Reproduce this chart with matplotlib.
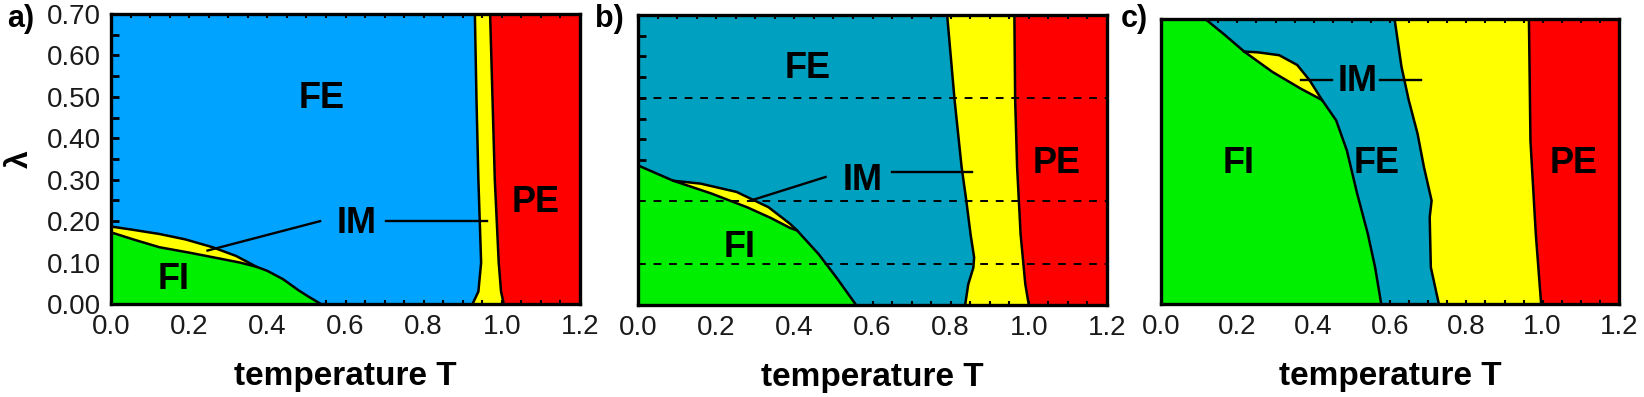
import matplotlib
matplotlib.use("Agg")
import matplotlib.pyplot as plt
from matplotlib.ticker import MultipleLocator, FormatStrFormatter

plt.rcParams['font.family'] = ['Liberation Sans', 'DejaVu Sans']

# ---------------- colours ----------------
C_FE_A = '#00A3FF'
C_FE_BC = '#00A0C0'
C_FI = '#00EE00'
C_IM = '#FFFF00'
C_PE = '#FF0000'

T_MAX = 1.2
LAM_MAX = 0.70

# ---------------- panel a ----------------
a_fi_T = [0.0, 0.06, 0.124, 0.20, 0.26, 0.33, 0.372, 0.40, 0.44, 0.48, 0.505, 0.537]
a_fi_lam = [0.173, 0.155, 0.137, 0.124, 0.113, 0.100, 0.090, 0.080, 0.060, 0.033, 0.018, 0.0]
a_sl_T = [0.0, 0.05, 0.124, 0.19, 0.26, 0.32, 0.372]
a_sl_lam = [0.187, 0.180, 0.169, 0.156, 0.137, 0.116, 0.090]
a_feim_lam = [0.0, 0.03, 0.10, 0.30, 0.50, 0.70]
a_feim_T = [0.925, 0.940, 0.947, 0.940, 0.935, 0.931]
a_impe_lam = [0.0, 0.03, 0.10, 0.30, 0.50, 0.70]
a_impe_T = [1.005, 0.998, 0.992, 0.982, 0.976, 0.970]

# ---------------- panel b ----------------
b_fi_T = [0.0, 0.09, 0.188, 0.279, 0.340, 0.389, 0.407, 0.462, 0.508, 0.558]
b_fi_lam = [0.337, 0.300, 0.269, 0.236, 0.210, 0.186, 0.180, 0.123, 0.066, 0.0]
b_sl_T = [0.09, 0.16, 0.252, 0.334, 0.389, 0.407]
b_sl_lam = [0.300, 0.293, 0.273, 0.236, 0.196, 0.180]
b_feim_lam = [0.0, 0.05, 0.09, 0.115, 0.17, 0.252, 0.333, 0.495, 0.70]
b_feim_T = [0.837, 0.845, 0.858, 0.860, 0.851, 0.840, 0.828, 0.810, 0.791]
b_impe_lam = [0.0, 0.05, 0.17, 0.333, 0.495, 0.70]
b_impe_T = [1.000, 0.991, 0.979, 0.970, 0.965, 0.963]
b_dash_lam = [0.50, 0.25, 0.10]

# ---------------- panel c ----------------
c_fi_T = [0.116, 0.167, 0.218, 0.292, 0.366, 0.422, 0.459, 0.487, 0.514, 0.542, 0.561, 0.577]
c_fi_lam = [0.70, 0.661, 0.620, 0.570, 0.529, 0.501, 0.451, 0.377, 0.271, 0.172, 0.090, 0.0]
c_sl_T = [0.218, 0.255, 0.310, 0.357, 0.389, 0.422]
c_sl_lam = [0.620, 0.618, 0.611, 0.587, 0.550, 0.501]
c_feim_lam = [0.0, 0.09, 0.213, 0.254, 0.336, 0.419, 0.501, 0.583, 0.70]
c_feim_T = [0.728, 0.707, 0.704, 0.709, 0.689, 0.672, 0.649, 0.630, 0.612]
c_impe_lam = [0.0, 0.172, 0.401, 0.70]
c_impe_T = [0.996, 0.982, 0.968, 0.964]

# ---------------- labels ----------------
a_labels = [('FE', 0.539, 0.495), ('IM', 0.629, 0.194), ('PE', 1.086, 0.245), ('FI', 0.161, 0.058)]
a_lines = [((0.535, 0.247), (0.200, 0.129)), ((0.703, 0.961), (0.200, 0.200))]
b_labels = [('FE', 0.435, 0.572), ('IM', 0.576, 0.301), ('PE', 1.070, 0.342), ('FI', 0.261, 0.139)]
b_lines = [((0.480, 0.288), (0.309, 0.252)), ((0.650, 0.855), (0.320, 0.320))]
c_labels = [('FI', 0.204, 0.345), ('FE', 0.565, 0.345), ('PE', 1.080, 0.345), ('IM', 0.514, 0.546)]
c_lines = [((0.366, 0.449), (0.550, 0.550)), ((0.575, 0.681), (0.550, 0.550))]

W, H = 1644, 397
fig = plt.figure(figsize=(W / 100, H / 100), dpi=100)


def px_axes(l, r, t, b):
    return fig.add_axes([l / W, (H - b) / H, (r - l) / W, (b - t) / H])


def draw_panel(ax, fe_col, fi_T, fi_lam, sl_T, sl_lam, feim_T, feim_lam,
               impe_T, impe_lam, labels, lines, show_ylabels):
    ax.set_xlim(0, T_MAX)
    ax.set_ylim(0, LAM_MAX)
    ax.set_facecolor(fe_col)
    lw = 1.8
    # PE
    ax.fill(list(impe_T) + [T_MAX + 0.1, T_MAX + 0.1],
            list(impe_lam) + [LAM_MAX, 0.0], color=C_PE, lw=0, zorder=1)
    # IM strip
    ax.fill(list(feim_T) + list(impe_T)[::-1], list(feim_lam) + list(impe_lam)[::-1],
            color=C_IM, lw=0, zorder=1)
    # FI region
    px = [0.0]
    py = [0.0]
    if fi_lam[0] >= LAM_MAX - 1e-9:
        px += [0.0]
        py += [LAM_MAX]
    px += list(fi_T)
    py += list(fi_lam)
    ax.fill(px, py, color=C_FI, lw=0, zorder=2)
    # IM sliver
    t0, t1 = min(sl_T), max(sl_T)
    low = [(t, l) for t, l in zip(fi_T, fi_lam) if t0 - 1e-9 <= t <= t1 + 1e-9]
    sx = list(sl_T) + [p[0] for p in low][::-1]
    sy = list(sl_lam) + [p[1] for p in low][::-1]
    ax.fill(sx, sy, color=C_IM, lw=0, zorder=3)
    # boundary lines
    for xs, ys in ((fi_T, fi_lam), (sl_T, sl_lam), (feim_T, feim_lam), (impe_T, impe_lam)):
        ax.plot(xs, ys, color='black', lw=lw, zorder=4, solid_joinstyle='round')
    # text labels
    for s, x, y in labels:
        ax.text(x, y, s, fontsize=26, fontweight='bold', ha='center', va='center', zorder=6)
    for xs, ys in lines:
        ax.plot(xs, ys, color='black', lw=1.7, zorder=6)
    # axes styling
    ax.xaxis.set_major_locator(MultipleLocator(0.2))
    ax.xaxis.set_minor_locator(MultipleLocator(0.05))
    ax.yaxis.set_major_locator(MultipleLocator(0.1))
    ax.yaxis.set_minor_locator(MultipleLocator(0.05))
    ax.xaxis.set_major_formatter(FormatStrFormatter('%.1f'))
    ax.yaxis.set_major_formatter(FormatStrFormatter('%.2f'))
    ax.tick_params(axis='x', which='both', direction='in', top=True, bottom=True,
                   length=3, width=1.5, labelsize=20, pad=7, labelcolor='#1a1a1a')
    ax.tick_params(axis='y', which='both', direction='in', left=True, right=False,
                   length=6, width=2, labelsize=20, pad=7, labelleft=show_ylabels,
                   labelcolor='#1a1a1a')
    for sp in ax.spines.values():
        sp.set_linewidth(2.4)
        sp.set_zorder(10)
    ax.set_xlabel('temperature T', fontsize=24, fontweight='bold', labelpad=15)


ax_a = px_axes(111, 580, 14, 304)
ax_b = px_axes(638, 1107, 15, 305)
ax_c = px_axes(1161, 1619, 19, 304)

draw_panel(ax_a, C_FE_A, a_fi_T, a_fi_lam, a_sl_T, a_sl_lam, a_feim_T, a_feim_lam,
           a_impe_T, a_impe_lam, a_labels, a_lines, True)
draw_panel(ax_b, C_FE_BC, b_fi_T, b_fi_lam, b_sl_T, b_sl_lam, b_feim_T, b_feim_lam,
           b_impe_T, b_impe_lam, b_labels, b_lines, False)
draw_panel(ax_c, C_FE_BC, c_fi_T, c_fi_lam, c_sl_T, c_sl_lam, c_feim_T, c_feim_lam,
           c_impe_T, c_impe_lam, c_labels, c_lines, False)

for lam in b_dash_lam:
    ax_b.axhline(lam, color='black', lw=1.4, ls=(0, (4, 4)), zorder=5)

ax_a.set_ylabel('λ', fontsize=23, fontweight='bold', labelpad=9)

fig.text(21 / W, 1 - 19 / H, 'a)', fontsize=22, fontweight='bold', ha='center', va='center')
fig.text(609 / W, 1 - 19 / H, 'b)', fontsize=22, fontweight='bold', ha='center', va='center')
fig.text(1134 / W, 1 - 19 / H, 'c)', fontsize=22, fontweight='bold', ha='center', va='center')

fig.savefig('out.png', dpi=100)
